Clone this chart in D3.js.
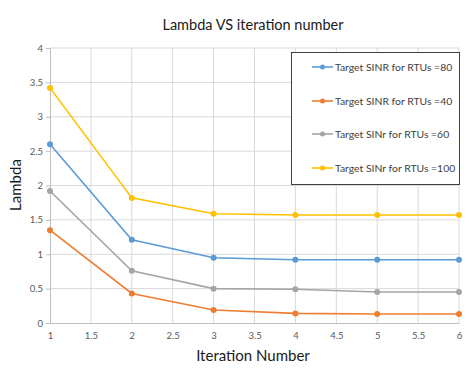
<!DOCTYPE html>
<html><head><meta charset="utf-8">
<script src="https://cdn.jsdelivr.net/npm/d3@7"></script>
<style>body{margin:0;background:#fff}svg{display:block}text{font-family:Lato,"Open Sans",sans-serif}</style>
</head><body><svg id="c" width="474" height="370"></svg>
<script>
const iterations = [1, 2, 3, 4, 5, 6];
const seriesNames = ["Target SINR for RTUs =80", "Target SINR for RTUs =40", "Target SINr for RTUs =60", "Target SINr for RTUs =100"];
const sinr80 = [2.6, 1.21, 0.95, 0.92, 0.92, 0.92];
const sinr40 = [1.35, 0.43, 0.19, 0.14, 0.13, 0.13];
const sinr60 = [1.92, 0.76, 0.5, 0.49, 0.45, 0.45];
const sinr100 = [3.42, 1.82, 1.59, 1.57, 1.57, 1.57];
const xTicks = [1, 1.5, 2, 2.5, 3, 3.5, 4, 4.5, 5, 5.5, 6];
const yTicks = [0, 0.5, 1, 1.5, 2, 2.5, 3, 3.5, 4];
const colors = ["#5B9BD5", "#ED7D31", "#A5A5A5", "#FFC000"];
const allSeries = [sinr80, sinr40, sinr60, sinr100];

const svg = d3.select("#c");
const x = d3.scaleLinear().domain([1, 6]).range([50, 459]);
const y = d3.scaleLinear().domain([0, 4]).range([323, 48]);

// gridlines
svg.append("g").selectAll("line").data(yTicks.slice(1)).join("line")
  .attr("x1", 50).attr("x2", 459).attr("y1", d => y(d)).attr("y2", d => y(d))
  .attr("stroke", "#d9d9d9").attr("stroke-width", 1);
svg.append("g").selectAll("line").data(xTicks.slice(1)).join("line")
  .attr("y1", 48).attr("y2", 323).attr("x1", d => x(d)).attr("x2", d => x(d))
  .attr("stroke", "#d9d9d9").attr("stroke-width", 1);

// axes
const xAxis = svg.append("g").attr("transform", "translate(0,323)")
  .call(d3.axisBottom(x).tickValues(xTicks).tickSize(0).tickPadding(9).tickFormat(d3.format("")));
const yAxis = svg.append("g").attr("transform", "translate(50,0)")
  .call(d3.axisLeft(y).tickValues(yTicks).tickSize(4).tickPadding(3).tickFormat(d3.format("")));
[xAxis, yAxis].forEach(a => {
  a.select(".domain").attr("stroke", "#bfbfbf");
  a.selectAll(".tick line").attr("stroke", "#bfbfbf");
  a.selectAll("text").attr("fill", "#595959").style("font-size", "9.5px").style("font-family", "Lato, sans-serif");
});

// lines
const line = d3.line().x((d, i) => x(iterations[i])).y(d => y(d));
allSeries.forEach((s, k) => {
  svg.append("path").datum(s).attr("d", line).attr("fill", "none")
    .attr("stroke", colors[k]).attr("stroke-width", 1.6);
  svg.append("g").selectAll("circle").data(s).join("circle")
    .attr("cx", (d, i) => x(iterations[i])).attr("cy", d => y(d)).attr("r", 3)
    .attr("fill", colors[k]);
});

// legend
svg.append("rect").attr("x", 291.5).attr("y", 52.5).attr("width", 168).attr("height", 132)
  .attr("fill", "#fff").attr("stroke", "#404040").attr("stroke-width", 1);
const legY = [67, 101, 134, 168];
seriesNames.forEach((n, k) => {
  const g = svg.append("g");
  g.append("line").attr("x1", 312).attr("x2", 333).attr("y1", legY[k]).attr("y2", legY[k])
    .attr("stroke", colors[k]).attr("stroke-width", 1.6);
  g.append("circle").attr("cx", 322.5).attr("cy", legY[k]).attr("r", 2.5).attr("fill", colors[k]);
  g.append("text").attr("x", 335).attr("y", legY[k]).attr("dy", "0.35em")
    .style("font-size", "10.4px").attr("fill", "#404040").text(n);
});

// titles
svg.append("text").attr("x", 253).attr("y", 30).attr("text-anchor", "middle")
  .style("font-size", "14.5px").attr("fill", "#1a1a1a").text("Lambda VS iteration number");
svg.append("text").attr("x", 253).attr("y", 361).attr("text-anchor", "middle")
  .style("font-size", "15px").attr("fill", "#1a1a1a").text("Iteration Number");
svg.append("text").attr("transform", "translate(21,185) rotate(-90)").attr("text-anchor", "middle")
  .style("font-size", "15px").attr("fill", "#1a1a1a").text("Lambda");
</script></body></html>
